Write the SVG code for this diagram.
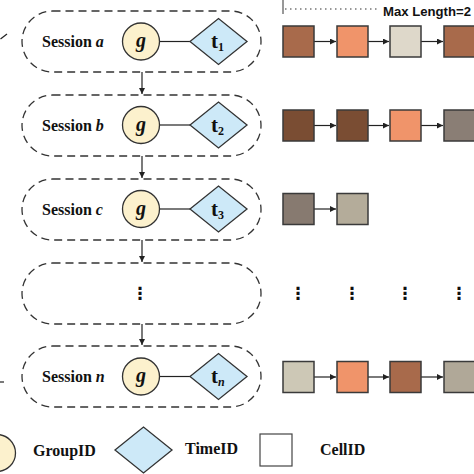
<svg xmlns="http://www.w3.org/2000/svg" width="474" height="474" viewBox="0 0 474 474">
<style>
.sess{fill:none;stroke:#333;stroke-width:1.3;stroke-dasharray:8 5}
.grp{fill:#fcf1cd;stroke:#333;stroke-width:1.3}
.tim{fill:#cde9f8;stroke:#333;stroke-width:1.3}
.cell{stroke:#3a3a3a;stroke-width:1.5}
.ln{stroke:#222;stroke-width:1.2;fill:none}
.lbl{font-family:"Liberation Serif",serif;font-weight:bold;font-size:16px;fill:#111}
.g{font-family:"Liberation Serif",serif;font-weight:bold;font-style:italic;font-size:20px;fill:#111}
.t{font-family:"Liberation Serif",serif;font-weight:bold;font-size:21px;fill:#111}
.sub{font-family:"Liberation Serif",serif;font-weight:bold;font-size:12px;fill:#111}
.dots{font-family:"DejaVu Sans",sans-serif;font-weight:bold;font-size:17px;fill:#111}
</style>
<defs>
<marker id="ah" markerWidth="8" markerHeight="8" refX="6" refY="3" orient="auto" markerUnits="userSpaceOnUse">
<path d="M0,0 L6,3 L0,6 z" fill="#222"/>
</marker>
</defs>

<g id="connectors">
<line class="ln" x1="142" y1="72" x2="142" y2="94" marker-end="url(#ah)"/>
<line class="ln" x1="142" y1="156" x2="142" y2="178" marker-end="url(#ah)"/>
<line class="ln" x1="142" y1="240" x2="142" y2="262" marker-end="url(#ah)"/>
<line class="ln" x1="142" y1="324" x2="142" y2="345" marker-end="url(#ah)"/>
<line class="ln" x1="0.5" y1="39" x2="7" y2="34"/>
<line class="ln" x1="0" y1="382" x2="4" y2="382"/>
<line class="ln" x1="314" y1="41.5" x2="336" y2="41.5" marker-end="url(#ah)"/>
<line class="ln" x1="368" y1="41.5" x2="389" y2="41.5" marker-end="url(#ah)"/>
<line class="ln" x1="421" y1="41.5" x2="443" y2="41.5" marker-end="url(#ah)"/>
<line class="ln" x1="314" y1="125.5" x2="336" y2="125.5" marker-end="url(#ah)"/>
<line class="ln" x1="368" y1="125.5" x2="389" y2="125.5" marker-end="url(#ah)"/>
<line class="ln" x1="421" y1="125.5" x2="443" y2="125.5" marker-end="url(#ah)"/>
<line class="ln" x1="314" y1="209" x2="336" y2="209" marker-end="url(#ah)"/>
<line class="ln" x1="314" y1="377" x2="336" y2="377" marker-end="url(#ah)"/>
<line class="ln" x1="368" y1="377" x2="389" y2="377" marker-end="url(#ah)"/>
<line class="ln" x1="421" y1="377" x2="443" y2="377" marker-end="url(#ah)"/>
</g>

<g id="maxlength">
<line x1="283" y1="0" x2="283" y2="14" stroke="#333" stroke-width="1"/>
<line x1="285" y1="9" x2="378" y2="9" stroke="#333" stroke-width="1.2" stroke-dasharray="1.5 3.5"/>
<text x="383" y="16" textLength="88" lengthAdjust="spacingAndGlyphs" font-family="'Liberation Sans',sans-serif" font-weight="bold" font-size="13" fill="#111">Max Length=2</text>
</g>

<g id="session-a">
<rect class="sess" x="22" y="11" width="239" height="61" rx="30.5"/>
<text class="lbl" x="42" y="47">Session <tspan font-style="italic">a</tspan></text>
<line class="ln" x1="159" y1="41.5" x2="190" y2="41.5"/>
<circle class="grp" cx="141" cy="41.5" r="18.5"/>
<text class="g" x="141" y="47" text-anchor="middle">g</text>
<polygon class="tim" points="190,41.5 218.5,18.5 247,41.5 218.5,64.5"/>
<text class="t" x="211" y="48">t<tspan class="sub" dy="3">1</tspan></text>
</g>

<g id="session-b">
<rect class="sess" x="22" y="95" width="239" height="61" rx="30.5"/>
<text class="lbl" x="42" y="130.5">Session <tspan font-style="italic">b</tspan></text>
<line class="ln" x1="159" y1="125" x2="190" y2="125"/>
<circle class="grp" cx="141" cy="125" r="18.5"/>
<text class="g" x="141" y="130.5" text-anchor="middle">g</text>
<polygon class="tim" points="190,125 218.5,102 247,125 218.5,148"/>
<text class="t" x="211" y="131.5">t<tspan class="sub" dy="3">2</tspan></text>
</g>

<g id="session-c">
<rect class="sess" x="22" y="179" width="239" height="61" rx="30.5"/>
<text class="lbl" x="42" y="214.5">Session <tspan font-style="italic">c</tspan></text>
<line class="ln" x1="159" y1="209" x2="190" y2="209"/>
<circle class="grp" cx="141" cy="209" r="18.5"/>
<text class="g" x="141" y="214.5" text-anchor="middle">g</text>
<polygon class="tim" points="190,209 218.5,186 247,209 218.5,232"/>
<text class="t" x="211" y="215.5">t<tspan class="sub" dy="3">3</tspan></text>
</g>

<g id="session-more">
<rect class="sess" x="22" y="263" width="239" height="61" rx="30.5"/>
<text class="dots" x="140" y="299" text-anchor="middle">⋮</text>
</g>

<g id="session-n">
<rect class="sess" x="22" y="346" width="239" height="61" rx="30.5"/>
<text class="lbl" x="42" y="382">Session <tspan font-style="italic">n</tspan></text>
<line class="ln" x1="159" y1="376.5" x2="190" y2="376.5"/>
<circle class="grp" cx="141" cy="376.5" r="18.5"/>
<text class="g" x="141" y="382" text-anchor="middle">g</text>
<polygon class="tim" points="190,376.5 218.5,353.5 247,376.5 218.5,399.5"/>
<text class="t" x="211" y="383">t<tspan class="sub" font-style="italic" dy="3">n</tspan></text>
</g>

<g id="cells-a">
<rect class="cell" x="283" y="26" width="31" height="31" fill="#a86a4b"/>
<rect class="cell" x="337" y="26" width="31" height="31" fill="#f0946a"/>
<rect class="cell" x="390" y="26" width="31" height="31" fill="#ded8ca"/>
<rect class="cell" x="444" y="26" width="31" height="31" fill="#a86a4b"/>
</g>
<g id="cells-b">
<rect class="cell" x="283" y="110" width="31" height="31" fill="#7a4d33"/>
<rect class="cell" x="337" y="110" width="31" height="31" fill="#7a4d33"/>
<rect class="cell" x="390" y="110" width="31" height="31" fill="#f0946a"/>
<rect class="cell" x="444" y="110" width="31" height="31" fill="#8a7e75"/>
</g>
<g id="cells-c">
<rect class="cell" x="283" y="193.5" width="31" height="31" fill="#877a70"/>
<rect class="cell" x="337" y="193.5" width="31" height="31" fill="#b4ac9a"/>
</g>
<g id="cells-more">
<text class="dots" x="298" y="299" text-anchor="middle">⋮</text>
<text class="dots" x="352" y="299" text-anchor="middle">⋮</text>
<text class="dots" x="405" y="299" text-anchor="middle">⋮</text>
<text class="dots" x="459" y="299" text-anchor="middle">⋮</text>
</g>
<g id="cells-n">
<rect class="cell" x="283" y="361.5" width="31" height="31" fill="#cdc8b6"/>
<rect class="cell" x="337" y="361.5" width="31" height="31" fill="#f0946a"/>
<rect class="cell" x="390" y="361.5" width="31" height="31" fill="#a86a4b"/>
<rect class="cell" x="444" y="361.5" width="31" height="31" fill="#b0a898"/>
</g>

<g id="legend-group">
<circle class="grp" cx="-3" cy="453" r="18.5"/>
<text class="lbl" x="33" y="456">GroupID</text>
</g>
<g id="legend-time">
<polygon class="tim" points="115,450 143.5,427 172,450 143.5,473"/>
<text class="lbl" x="185" y="454">TimeID</text>
</g>
<g id="legend-cell">
<rect x="260" y="434" width="32" height="32" fill="#fff" stroke="#444" stroke-width="1.2"/>
<text class="lbl" x="320" y="455">CellID</text>
</g>
</svg>
